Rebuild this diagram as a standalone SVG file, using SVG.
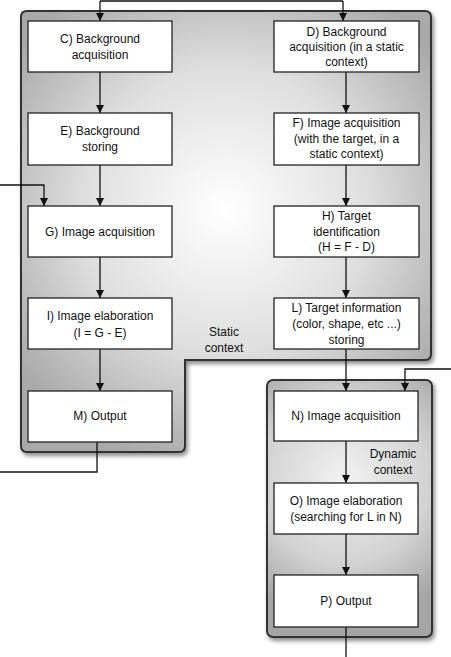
<svg xmlns="http://www.w3.org/2000/svg" width="451" height="657" viewBox="0 0 451 657">
<style>
.box{fill:#fff;stroke:#222;stroke-width:1.3}
.cont{stroke:#333;stroke-width:2}
.t{font-family:"Liberation Sans",Arial,sans-serif;font-size:12px;fill:#111;text-anchor:middle}
.c{fill:none;stroke:#111;stroke-width:1.3}
</style>
<defs>
<radialGradient id="gs" gradientUnits="userSpaceOnUse" cx="225" cy="210" r="260">
<stop offset="0" stop-color="#ffffff"/>
<stop offset="0.55" stop-color="#dedede"/>
<stop offset="1" stop-color="#a9a9a9"/>
</radialGradient>
<radialGradient id="gd" gradientUnits="userSpaceOnUse" cx="345" cy="480" r="140">
<stop offset="0" stop-color="#f2f2f2"/>
<stop offset="0.6" stop-color="#d2d2d2"/>
<stop offset="1" stop-color="#a5a5a5"/>
</radialGradient>
<filter id="sh" x="-10%" y="-10%" width="130%" height="130%">
<feDropShadow dx="2" dy="3" stdDeviation="2" flood-color="#000" flood-opacity="0.45"/>
</filter>
<marker id="ah" viewBox="0 0 10 10" refX="10" refY="5" markerWidth="8" markerHeight="8" markerUnits="userSpaceOnUse" orient="auto">
<path d="M0,0 L10,5 L0,10 Z" fill="#111"/>
</marker>
</defs>

<g id="static-context">
<path class="cont" fill="url(#gs)" filter="url(#sh)" d="M27,11 H425 Q431,11 431,17 V354 Q431,360 425,360 H185 V446 Q185,452 179,452 H27 Q21,452 21,446 V17 Q21,11 27,11 Z"/>
<text class="t" x="224" y="335.5">Static</text>
<text class="t" x="224" y="351.5">context</text>
</g>
<g id="dynamic-context">
<rect class="cont" fill="url(#gd)" filter="url(#sh)" x="267" y="380" width="165" height="257" rx="6"/>
<text class="t" x="393" y="457.5">Dynamic</text>
<text class="t" x="393" y="473.5">context</text>
</g>

<g id="connectors">
<path class="c" d="M100,1 H343"/>
<path class="c" marker-end="url(#ah)" d="M100,1 V21"/>
<path class="c" marker-end="url(#ah)" d="M343,1 V21"/>
<path class="c" marker-end="url(#ah)" d="M100,72 V113"/>
<path class="c" marker-end="url(#ah)" d="M100,165 V206"/>
<path class="c" marker-end="url(#ah)" d="M0,185 H44 V206"/>
<path class="c" marker-end="url(#ah)" d="M100,257 V298"/>
<path class="c" marker-end="url(#ah)" d="M100,349 V391"/>
<path class="c" d="M97,442 V472 H0"/>
<path class="c" marker-end="url(#ah)" d="M346,72 V113"/>
<path class="c" marker-end="url(#ah)" d="M346,165 V206"/>
<path class="c" marker-end="url(#ah)" d="M346,257 V298"/>
<path class="c" marker-end="url(#ah)" d="M346,349 V391"/>
<path class="c" marker-end="url(#ah)" d="M451,369 H405 V391"/>
<path class="c" marker-end="url(#ah)" d="M346,441 V483"/>
<path class="c" marker-end="url(#ah)" d="M346,534 V575"/>
<path class="c" d="M346,627 V657"/>
</g>

<g id="C"><rect class="box" x="28" y="21" width="144" height="51"/>
<text class="t" x="100" y="42.5">C) Background</text><text class="t" x="100" y="58.5">acquisition</text></g>
<g id="E"><rect class="box" x="28" y="113" width="144" height="52"/>
<text class="t" x="100" y="134.5">E) Background</text><text class="t" x="100" y="150.5">storing</text></g>
<g id="G"><rect class="box" x="28" y="206" width="144" height="51"/>
<text class="t" x="100" y="236">G) Image acquisition</text></g>
<g id="I"><rect class="box" x="28" y="298" width="144" height="51"/>
<text class="t" x="100" y="320">I) Image elaboration</text><text class="t" x="100" y="336.5">(I = G - E)</text></g>
<g id="M"><rect class="box" x="28" y="391" width="144" height="51"/>
<text class="t" x="100" y="419.5">M) Output</text></g>

<g id="D"><rect class="box" x="274" y="21" width="145" height="51"/>
<text class="t" x="346.5" y="35.5">D) Background</text><text class="t" x="346.5" y="50.5">acquisition (in a static</text><text class="t" x="346.5" y="65.5">context)</text></g>
<g id="F"><rect class="box" x="274" y="113" width="145" height="52"/>
<text class="t" x="346.5" y="127">F) Image acquisition</text><text class="t" x="346.5" y="142.5">(with the target, in a</text><text class="t" x="346.5" y="158">static context)</text></g>
<g id="H"><rect class="box" x="274" y="206" width="145" height="51"/>
<text class="t" x="346.5" y="219.5">H) Target</text><text class="t" x="346.5" y="235.5">identification</text><text class="t" x="346.5" y="251">(H = F - D)</text></g>
<g id="L"><rect class="box" x="274" y="298" width="145" height="51"/>
<text class="t" x="346.5" y="311.5">L) Target information</text><text class="t" x="346.5" y="327.5">(color, shape, etc ...)</text><text class="t" x="346.5" y="343.5">storing</text></g>

<g id="N"><rect class="box" x="274" y="391" width="144" height="50"/>
<text class="t" x="346" y="419.5">N) Image acquisition</text></g>
<g id="O"><rect class="box" x="274" y="483" width="144" height="51"/>
<text class="t" x="346" y="505">O) Image elaboration</text><text class="t" x="346" y="521">(searching for L in N)</text></g>
<g id="P"><rect class="box" x="274" y="575" width="144" height="52"/>
<text class="t" x="346" y="604.5">P) Output</text></g>
</svg>
